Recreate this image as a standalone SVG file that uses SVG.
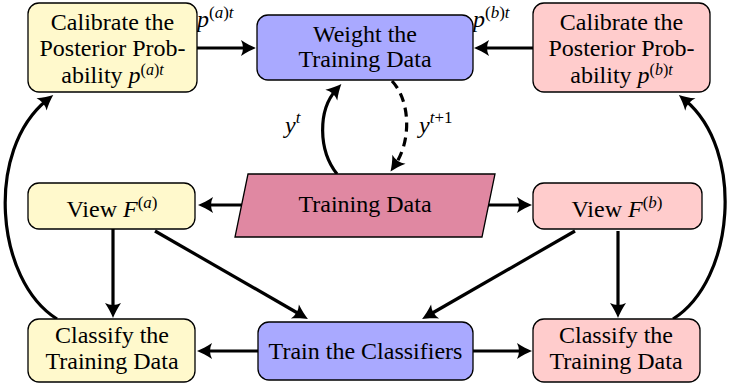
<svg xmlns="http://www.w3.org/2000/svg" width="730" height="384" viewBox="0 0 730 384">
<defs>
<marker id="ah" markerUnits="userSpaceOnUse" markerWidth="24" markerHeight="18" viewBox="-16 -9 24 18" refX="-8" refY="0" orient="auto">
<path d="M0,0 C-4,-1.5 -10,-4.5 -15,-8 Q-11,0 -15,8 C-10,4.5 -4,1.5 0,0Z" fill="#000"/>
</marker>
</defs>
<rect width="730" height="384" fill="#fff"/>
<g id="connectors" fill="none" stroke="#000" stroke-width="3.2" marker-end="url(#ah)">
<path d="M244,205 H206"/>
<path d="M488,205 H524"/>
<path d="M197,48 H248"/>
<path d="M533,48 H482"/>
<path d="M258,351 H205"/>
<path d="M473,351 H524"/>
<path d="M113,229 V310"/>
<path d="M618,231 V310"/>
<path d="M155,231 L301,315"/>
<path d="M575,231 L429,315"/>
<path d="M337,174 C318,150 318,110 336,90"/>
<path stroke-dasharray="9 6" d="M392,81 C410,100 412,140 395,165"/>
<path d="M57,319 C-5,280 -15,150 47,100"/>
<path d="M673,319 C735,280 745,150 685,100"/>
</g>
<g id="labels" fill="#000" stroke="none">
<text font-family="Liberation Serif" font-size="24" x="197" y="27"><tspan font-style="italic">p</tspan><tspan font-size="17" dy="-9">(<tspan font-style="italic">a</tspan>)<tspan font-style="italic">t</tspan></tspan></text>
<text font-family="Liberation Serif" font-size="24" x="473" y="27"><tspan font-style="italic">p</tspan><tspan font-size="17" dy="-9">(<tspan font-style="italic">b</tspan>)<tspan font-style="italic">t</tspan></tspan></text>
<text font-family="Liberation Serif" font-size="24" x="285" y="133"><tspan font-style="italic">y</tspan><tspan font-size="17" font-style="italic" dy="-10">t</tspan></text>
<text font-family="Liberation Serif" font-size="24" x="419" y="133"><tspan font-style="italic">y</tspan><tspan font-size="17" dy="-10"><tspan font-style="italic">t</tspan>+1</tspan></text>
</g>
<g id="calib-a">
<rect fill="#FFF9CC" stroke="#000" stroke-width="1.3" x="28" y="3" width="169" height="89" rx="11"/>
<text font-family="Liberation Serif" font-size="24" text-anchor="middle" x="112.5" y="30">Calibrate the</text>
<text font-family="Liberation Serif" font-size="24" text-anchor="middle" x="112.5" y="56">Posterior Prob-</text>
<text font-family="Liberation Serif" font-size="24" text-anchor="middle" x="112.5" y="83">ability <tspan font-style="italic">p</tspan><tspan font-size="16" dy="-8">(<tspan font-style="italic">a</tspan>)<tspan font-style="italic">t</tspan></tspan></text>
</g>
<g id="weight">
<rect fill="#A9A9FF" stroke="#000" stroke-width="1.3" x="257" y="15" width="216" height="65" rx="11"/>
<text font-family="Liberation Serif" font-size="24" text-anchor="middle" x="365" y="42">Weight the</text>
<text font-family="Liberation Serif" font-size="24" text-anchor="middle" x="365" y="67">Training Data</text>
</g>
<g id="calib-b">
<rect fill="#FFCCCC" stroke="#000" stroke-width="1.3" x="533" y="3" width="177" height="89" rx="11"/>
<text font-family="Liberation Serif" font-size="24" text-anchor="middle" x="621.5" y="30">Calibrate the</text>
<text font-family="Liberation Serif" font-size="24" text-anchor="middle" x="621.5" y="56">Posterior Prob-</text>
<text font-family="Liberation Serif" font-size="24" text-anchor="middle" x="621.5" y="83">ability <tspan font-style="italic">p</tspan><tspan font-size="16" dy="-8">(<tspan font-style="italic">b</tspan>)<tspan font-style="italic">t</tspan></tspan></text>
</g>
<g id="view-a">
<rect fill="#FFF9CC" stroke="#000" stroke-width="1.3" x="28" y="183" width="167" height="46" rx="11"/>
<text font-family="Liberation Serif" font-size="24" text-anchor="middle" x="112" y="217">View <tspan font-style="italic">F</tspan><tspan font-size="17" dy="-9">(<tspan font-style="italic">a</tspan>)</tspan></text>
</g>
<g id="training-data">
<polygon fill="#E088A2" stroke="#000" stroke-width="1.3" points="248,174 495,174 482,237 235,237"/>
<text font-family="Liberation Serif" font-size="24" text-anchor="middle" x="365" y="212">Training Data</text>
</g>
<g id="view-b">
<rect fill="#FFCCCC" stroke="#000" stroke-width="1.3" x="533" y="183" width="169" height="46" rx="11"/>
<text font-family="Liberation Serif" font-size="24" text-anchor="middle" x="617" y="217">View <tspan font-style="italic">F</tspan><tspan font-size="17" dy="-9">(<tspan font-style="italic">b</tspan>)</tspan></text>
</g>
<g id="classify-a">
<rect fill="#FFF9CC" stroke="#000" stroke-width="1.3" x="28" y="319" width="167" height="63" rx="11"/>
<text font-family="Liberation Serif" font-size="24" text-anchor="middle" x="112" y="343">Classify the</text>
<text font-family="Liberation Serif" font-size="24" text-anchor="middle" x="112" y="369">Training Data</text>
</g>
<g id="train">
<rect fill="#A9A9FF" stroke="#000" stroke-width="1.3" x="258" y="322" width="215" height="58" rx="11"/>
<text font-family="Liberation Serif" font-size="24" text-anchor="middle" x="365.5" y="359">Train the Classifiers</text>
</g>
<g id="classify-b">
<rect fill="#FFCCCC" stroke="#000" stroke-width="1.3" x="533" y="319" width="167" height="63" rx="11"/>
<text font-family="Liberation Serif" font-size="24" text-anchor="middle" x="616" y="343">Classify the</text>
<text font-family="Liberation Serif" font-size="24" text-anchor="middle" x="616" y="369">Training Data</text>
</g>
</svg>
